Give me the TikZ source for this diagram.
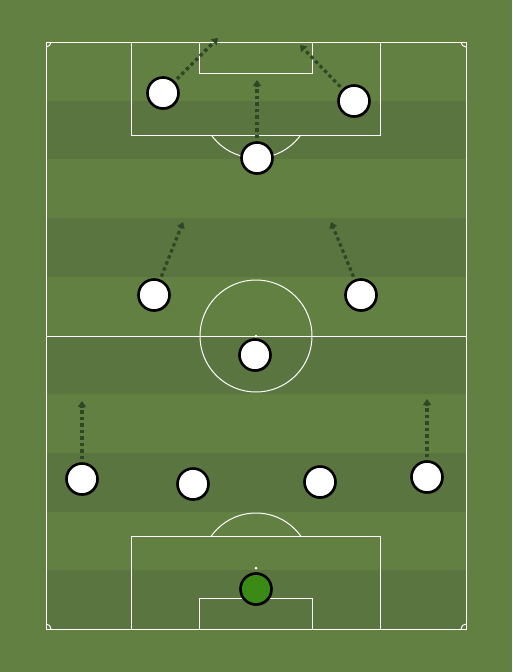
\documentclass[tikz,border=0pt]{standalone}
\usetikzlibrary{arrows.meta}
\definecolor{grassL}{HTML}{628042}
\definecolor{grassD}{HTML}{5A7540}
\definecolor{runC}{HTML}{2F4726}
\definecolor{gkC}{HTML}{3C8A16}
\tikzset{
  pline/.style={draw=white, line width=1pt},
  player/.style={circle, draw=black, line width=2.6pt, fill=white, minimum size=31pt, inner sep=0pt,
    preaction={draw=none, fill=black, fill opacity=0.25, transform canvas={xshift=1pt,yshift=-1.5pt}}},
  keeper/.style={player, fill=gkC},
  run/.style={draw=runC, line width=3.2pt, dash pattern=on 3.5pt off 3pt, shorten <=3pt,
    -{Triangle[length=6pt,width=8pt]}},
  spot/.style={circle, fill=white, inner sep=0pt, minimum size=3pt}
}
\begin{document}
\begin{tikzpicture}[x=1pt,y=-1pt]
\useasboundingbox (0,0) rectangle (512,672);
\fill[grassL] (0,0) rectangle (512,672);
% stripes
\foreach \i in {1,3,5,7,9}{
  \fill[grassD] (46,{42+\i*58.7}) rectangle (466,{42+(\i+1)*58.7});
}
% pitch lines
\draw[pline] (46,42) rectangle (466,629);
\draw[pline] (46,336) -- (466,336);
\draw[pline] (256,336) circle[radius=56];
\node[spot] (cs) at (256,336) {};
% top
\draw[pline] (131,42) rectangle (380,135);
\draw[pline] (199,42) rectangle (312,73);
\node[spot] (ts) at (256,103) {};
\begin{scope}
\clip (100,135) rectangle (412,200);
\draw[pline] (256,103) circle[radius=55];
\end{scope}
% bottom
\draw[pline] (131,536) rectangle (380,629);
\draw[pline] (199,598) rectangle (312,629);
\node[spot] (bs) at (256,568) {};
\begin{scope}
\clip (100,470) rectangle (412,536);
\draw[pline] (256,568) circle[radius=55];
\end{scope}
% corner arcs
\draw[pline] (51,42) arc[start angle=0,end angle=90,radius=5];
\draw[pline] (461,42) arc[start angle=180,end angle=90,radius=5];
\draw[pline] (51,629) arc[start angle=0,end angle=-90,radius=5];
\draw[pline] (461,629) arc[start angle=180,end angle=270,radius=5];
% run targets
\coordinate (t1) at (218,38);
\coordinate (t2) at (300,45);
\coordinate (t3) at (257,80);
\coordinate (t4) at (183,222);
\coordinate (t5) at (331,222);
\coordinate (t6) at (82,401);
\coordinate (t7) at (427,399);
% players
\node[player] (p1) at (163,93) {};
\node[player] (p2) at (354,101) {};
\node[player] (p3) at (257,158) {};
\node[player] (p4) at (154,295) {};
\node[player] (p5) at (361,295) {};
\node[player] (p6) at (255,355) {};
\node[player] (p7) at (82,479) {};
\node[player] (p8) at (193,484) {};
\node[player] (p9) at (320,482) {};
\node[player] (p10) at (427,477) {};
\node[keeper] (gk) at (256,589) {};
% runs
\draw[run] (p1) -- (t1);
\draw[run] (p2) -- (t2);
\draw[run] (p3) -- (t3);
\draw[run] (p4) -- (t4);
\draw[run] (p5) -- (t5);
\draw[run] (p7) -- (t6);
\draw[run] (p10) -- (t7);
\end{tikzpicture}
\end{document}
